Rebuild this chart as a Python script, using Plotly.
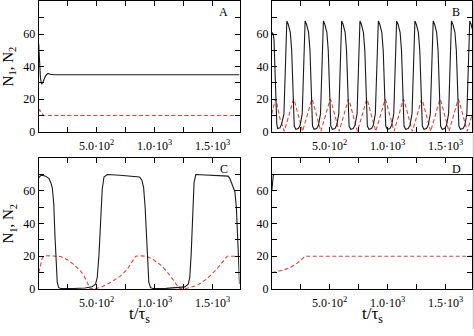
import plotly.graph_objects as go

W, H = 474, 336

# ---- Panel A: damped approach to a fixed point ----
tA_n1 = [0, 5, 15, 25, 40, 60, 80, 100, 130, 1732]
A_n1 = [54, 48, 33, 29.2, 31, 34.5, 35.8, 35.3, 35, 35]
tA_n2 = [0, 8, 25, 45, 1732]
A_n2 = [12.5, 13.5, 11.5, 10, 10]

# ---- Panel B: fast relaxation oscillations ----
tB_n1 = [0, 10, 18, 30, 42, 50, 70, 85, 97, 104, 108, 118, 129,
         141, 159, 171, 182, 193, 207, 229, 244, 254, 262, 266, 276, 287,
         299, 317, 329, 340, 351, 365, 387, 402, 412, 420, 424, 434, 445,
         457, 475, 487, 498, 509, 523, 545, 560, 570, 578, 582, 592, 603,
         615, 633, 645, 656, 667, 681, 703, 718, 728, 736, 740, 750, 761,
         773, 791, 803, 814, 825, 839, 861, 876, 886, 894, 898, 908, 920,
         932, 950, 962, 973, 984, 998, 1020, 1035, 1045, 1053, 1057, 1067, 1078,
         1090, 1108, 1120, 1131, 1142, 1156, 1178, 1193, 1203, 1211, 1215, 1225, 1236,
         1248, 1266, 1278, 1289, 1300, 1314, 1336, 1351, 1361, 1369, 1373, 1383, 1394,
         1406, 1424, 1436, 1447, 1458, 1472, 1494, 1509, 1519, 1527, 1531, 1541, 1552,
         1564, 1582, 1594, 1605, 1616, 1630, 1652, 1667, 1677, 1685, 1689, 1699, 1710,
         1722, 1732]
B_n1 = [61, 60, 57, 30, 5, 2, 2.5, 5, 8, 11, 20, 50, 68,
        66, 61, 50, 20, 3.5, 1.5, 2, 4, 7, 11, 20, 50, 68,
        66, 61, 50, 20, 3.5, 1.5, 2, 4, 7, 11, 20, 50, 68,
        66, 61, 50, 20, 3.5, 1.5, 2, 4, 7, 11, 20, 50, 68,
        66, 61, 50, 20, 3.5, 1.5, 2, 4, 7, 11, 20, 50, 68,
        66, 61, 50, 20, 3.5, 1.5, 2, 4, 7, 11, 20, 50, 68,
        66, 61, 50, 20, 3.5, 1.5, 2, 4, 7, 11, 20, 50, 68,
        66, 61, 50, 20, 3.5, 1.5, 2, 4, 7, 11, 20, 50, 68,
        66, 61, 50, 20, 3.5, 1.5, 2, 4, 7, 11, 20, 50, 68,
        66, 61, 50, 20, 3.5, 1.5, 2, 4, 7, 11, 20, 50, 68,
        66, 61, 50, 20, 3.5, 1.5, 2, 4, 7, 11, 20, 50, 68,
        66, 63]
tB_n2 = [0, 15, 29, 38, 70, 107,
         147, 177, 187, 195, 229, 265,
         305, 335, 345, 353, 387, 423,
         463, 493, 503, 511, 545, 581,
         621, 651, 661, 669, 703, 739,
         779, 809, 819, 827, 861, 897,
         938, 968, 978, 986, 1020, 1056,
         1096, 1126, 1136, 1144, 1178, 1214,
         1254, 1284, 1294, 1302, 1336, 1372,
         1412, 1442, 1452, 1460, 1494, 1530,
         1570, 1600, 1610, 1618, 1652, 1688,
         1728, 1732]
B_n2 = [11, 17, 20, 19, 8, 0.3,
        10, 18.5, 20, 19, 10, 0.3,
        10, 18.5, 20, 19, 10, 0.3,
        10, 18.5, 20, 19, 10, 0.3,
        10, 18.5, 20, 19, 10, 0.3,
        10, 18.5, 20, 19, 10, 0.3,
        10, 18.5, 20, 19, 10, 0.3,
        10, 18.5, 20, 19, 10, 0.3,
        10, 18.5, 20, 19, 10, 0.3,
        10, 18.5, 20, 19, 10, 0.3,
        10, 18.5, 20, 19, 10, 0.3,
        10, 11]

# ---- Panel C: slow switching between two states ----
tC_n1 = [0, 15, 31, 60, 89, 105, 118, 130, 140, 150, 160, 172, 190,
         300, 400, 460, 490, 505, 520, 534, 548, 563, 591, 700, 822,
         870, 890, 905, 918, 928, 938, 950, 965, 985,
         1100, 1200, 1260, 1290, 1303, 1315, 1328, 1340, 1355, 1500,
         1634, 1649, 1675, 1692, 1705, 1716, 1726, 1732]
C_n1 = [68, 69.2, 69.5, 69, 67.5, 65, 61.6, 52, 33, 14, 4, 0.8, 0.3,
        0.3, 0.6, 1.3, 3, 7, 21, 41, 61, 68.5, 70, 69.6, 69,
        68.5, 66.5, 62, 50, 32, 14, 4, 0.8, 0.3,
        0.4, 0.9, 1.3, 3, 7, 21, 45, 65, 70, 69.6,
        69, 67.5, 63, 59.5, 50, 35, 15, 3]
tC_n2 = [0, 15, 31, 45, 60, 120, 190, 247, 304, 362, 391, 419, 442,
         490, 534, 621, 707, 764, 807, 836, 873, 931, 988, 1046, 1103,
         1147, 1190, 1212, 1270, 1362, 1448, 1534, 1591, 1626, 1732]
C_n2 = [10, 14, 18.9, 20, 20.3, 20.2, 19.9, 17.9, 14.9, 10.9, 7.9, 4, 0.2,
        0.2, 1, 4, 8, 12, 17, 20, 20.3, 20, 18, 15, 11,
        7, 2.6, 0.2, 0.3, 2, 6, 12, 17, 20, 20]

# ---- Panel D: fixed point with N2 saturated ----
tD_n1 = [0, 5, 12, 20, 1732]
D_n1 = [60.6, 66, 69.5, 70, 70]
tD_n2 = [0, 50, 100, 150, 200, 250, 285, 1732]
D_n2 = [10, 10.6, 11.6, 12.9, 14.8, 17.5, 20, 20]

panel_labels = ["A", "B", "C", "D"]
x_ticks = [250, 500, 750, 1000, 1250, 1500]
x_label_vals = [500, 1000, 1500]
x_label_text = ["5.0·10<sup>2</sup>", "1.0·10<sup>3</sup>", "1.5·10<sup>3</sup>"]
y_ticks = [0, 10, 20, 30, 40, 50, 60, 70]
y_ticktext = ["0", "", "20", "", "40", "", "60", ""]

BLACK = "#1a1a1a"
RED = "#e8403a"
SERIF = "Liberation Serif, Times New Roman, Times, serif"


def px(x):
    return x / W


def py(y):
    return 1 - y / H


# plot-area boxes in pixels: (left, right, top, bottom)
boxes = [
    (38.7, 239.5, 0.5, 134),
    (271.9, 472.3, 0.5, 134),
    (38.7, 239.5, 161, 295),
    (271.9, 472.3, 161, 295),
]

series = [
    (tA_n1, A_n1, tA_n2, A_n2),
    (tB_n1, B_n1, tB_n2, B_n2),
    (tC_n1, C_n1, tC_n2, C_n2),
    (tD_n1, D_n1, tD_n2, D_n2),
]

fig = go.Figure()
layout = dict(
    width=W, height=H,
    margin=dict(l=0, r=0, t=0, b=0),
    paper_bgcolor="white", plot_bgcolor="white",
    showlegend=False,
    font=dict(family=SERIF, size=12, color="black"),
)

annotations = []
for i, ((t1, n1, t2, n2), (l, r, t, b)) in enumerate(zip(series, boxes)):
    k = "" if i == 0 else str(i + 1)
    xa, ya = "x" + k, "y" + k
    fig.add_trace(go.Scatter(x=t2, y=n2, mode="lines", xaxis=xa, yaxis=ya,
                             line=dict(color=RED, width=1.1, dash="4px,2.5px")))
    fig.add_trace(go.Scatter(x=t1, y=n1, mode="lines", xaxis=xa, yaxis=ya,
                             line=dict(color=BLACK, width=1.1)))
    common = dict(showline=True, linecolor="black", linewidth=1, mirror="ticks",
                  ticks="inside", ticklen=5, tickwidth=1, tickcolor="black",
                  showgrid=False, zeroline=False,
                  tickfont=dict(family=SERIF, size=12, color="black"))
    layout["xaxis" + k] = dict(common, domain=[px(l), px(r)], range=[0, 1732],
                               tickmode="array", tickvals=x_ticks,
                               showticklabels=False, anchor=ya)
    layout["yaxis" + k] = dict(common, domain=[py(b), py(t)], range=[0, 80],
                               tickmode="array", tickvals=y_ticks, ticktext=y_ticktext,
                               anchor=xa)
    # time tick labels placed at their axis values just under the frame
    for v, txt in zip(x_label_vals, x_label_text):
        annotations.append(dict(text=txt, x=v, xref=xa, y=py(b + 4), yref="paper",
                                showarrow=False, xanchor="center", yanchor="top",
                                font=dict(family=SERIF, size=12, color="black")))
    annotations.append(dict(text=panel_labels[i], x=px(r - 16), y=py(t + 11),
                            xref="paper", yref="paper", showarrow=False,
                            xanchor="center", yanchor="middle",
                            font=dict(family=SERIF, size=12, color="black")))

# axis titles
for yc in (67, 228):
    annotations.append(dict(text="N<sub>1</sub>, N<sub>2</sub>", textangle=-90,
                            x=px(9), y=py(yc), xref="paper", yref="paper",
                            showarrow=False, xanchor="center", yanchor="middle",
                            font=dict(family=SERIF, size=15, color="black")))
for xc in (139.1, 372.1):
    annotations.append(dict(text="t/τ<sub>s</sub>", x=px(xc), y=py(308),
                            xref="paper", yref="paper", showarrow=False,
                            xanchor="center", yanchor="top",
                            font=dict(family=SERIF, size=17, color="black")))

layout["annotations"] = annotations
layout["shapes"] = [dict(type="rect", xref="paper", yref="paper",
                         x0=px(472.8), x1=1, y0=0, y1=1,
                         fillcolor="#c4c4c4", line=dict(width=0), layer="below")]
fig.update_layout(**layout)
fig.write_html("out.html")
